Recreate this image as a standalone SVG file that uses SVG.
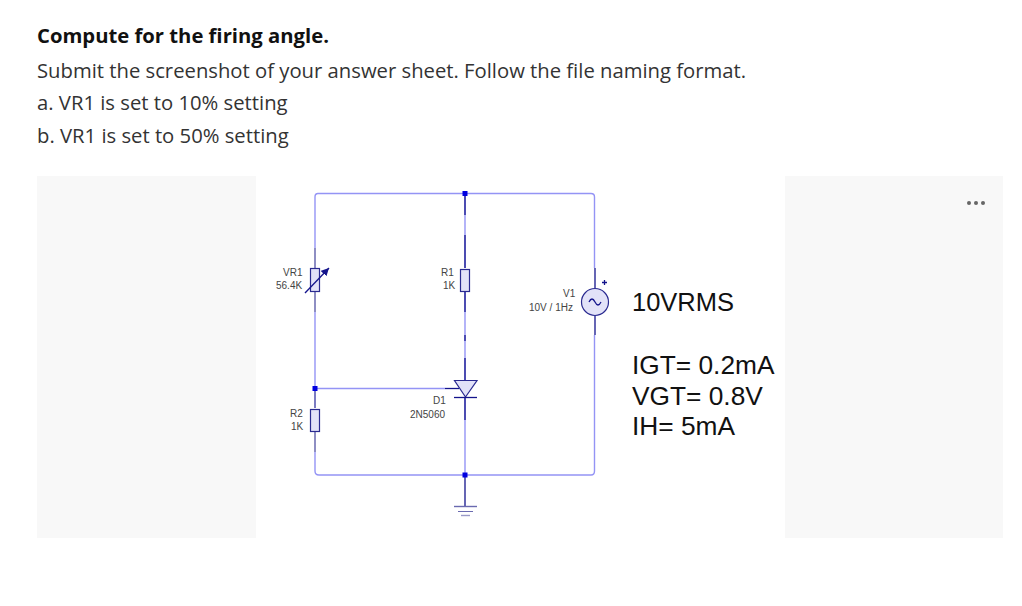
<svg xmlns="http://www.w3.org/2000/svg" width="1022" height="606" viewBox="0 0 1022 606">
<style>
.q{font-family:"Open Sans","Noto Sans",sans-serif;font-size:20.25px;fill:#333}
.l{font-family:"Liberation Sans",Arial,sans-serif;font-size:10px;fill:#444}
.b{font-family:"Liberation Sans",Arial,sans-serif;font-size:26.300px;fill:#111}
.w{fill:none;stroke:#9494f5;stroke-width:1.4}
.p{fill:none;stroke:#14148c;stroke-width:1.3}
.g{fill:none;stroke:#6a6ab0;stroke-width:1.5}
.body{fill:#e2e2f8;stroke:#2a2a90;stroke-width:1.2}
.j{fill:#0000e0}
.panel{fill:#f8f8f8}
</style>
<defs><marker id="ah" markerWidth="7" markerHeight="7" refX="6" refY="3" orient="auto"><path d="M0 0L6 3L0 6Z" fill="#14148c"/></marker></defs>
<rect width="1022" height="606" fill="#fff"/>
<g id="question">
<text x="37" y="43" class="q" style="font-weight:700;fill:#111">Compute for the firing angle.</text>
<text x="37" y="78" class="q">Submit the screenshot of your answer sheet. Follow the file naming format.</text>
<text x="37" y="110" class="q">a. VR1 is set to 10% setting</text>
<text x="37" y="143" class="q">b. VR1 is set to 50% setting</text>
</g>
<rect class="panel" x="37" y="176" width="219" height="362"/>
<rect class="panel" x="785" y="176" width="218" height="362"/>
<g id="menu" fill="#666"><circle cx="969" cy="203" r="2"/><circle cx="976" cy="203" r="2"/><circle cx="983" cy="203" r="2"/></g>
<g id="connectors">
<path class="w" d="M315 248V197Q315 193.500 318 193.500H591Q594.500 193.500 594.500 197V268"/>
<path class="w" d="M315 312V408M315 452V471Q315 475 319 475H591Q594.500 475 594.500 471V335"/>
<path class="w" d="M315 388.500H445M465 193.500V268M465 292V380M465 398V475"/>
<path class="p" d="M465 193.500V215M465 235V268M465 292V312M465 335V341M465 358V380M465 398V420M465 475V506"/>
<path class="g" d="M315 248V268M315 292V312M315 388.500V408M315 432V452"/>
<path class="p" d="M445 388.500H459"/>
<path class="p" d="M595 268V288M595 316V335"/>
</g>
<g id="VR1"><rect class="body" x="310.500" y="268.500" width="9" height="23"/><path class="p" d="M305 293L329 268" marker-end="url(#ah)"/><text class="l" x="283" y="276">VR1</text><text class="l" x="276" y="289">56.4K</text></g>
<g id="R1"><rect class="body" x="460.500" y="269.500" width="9" height="22"/><text class="l" x="441" y="276">R1</text><text class="l" x="443" y="289">1K</text></g>
<g id="R2"><rect class="body" x="310.500" y="409.500" width="9" height="22"/><text class="l" x="290" y="417">R2</text><text class="l" x="291" y="430">1K</text></g>
<g id="D1"><path class="body" d="M454.500 380.500H477L465.500 397Z"/><path class="p" d="M454 397.500H477"/><text class="l" x="433" y="404">D1</text><text class="l" x="410" y="418">2N5060</text></g>
<g id="V1"><circle class="body" cx="595" cy="302" r="13.500"/><path class="p" d="M589 302Q592 296 595 302T601 302"/><path class="p" d="M602 282.500H607M604.500 280V285"/><text class="l" x="563" y="297">V1</text><text class="l" x="529" y="311">10V / 1Hz</text></g>
<g id="GND"><path d="M454 506.500H477" stroke="#6a6ab0" stroke-width="1.4"/><path d="M458 511.500H473" stroke="#6a6ab0" stroke-width="1"/><path d="M461 515.500H470" stroke="#9a9ac8" stroke-width="1.4"/></g>
<g id="junctions" class="j"><rect x="462.500" y="191" width="5" height="5"/><rect x="312.500" y="386" width="5" height="5"/><rect x="462.500" y="472.500" width="5" height="5"/></g>
<g id="notes">
<text class="b" x="632" y="311" style="font-size:25.500px">10VRMS</text>
<text class="b" x="632" y="374">IGT= 0.2mA</text>
<text class="b" x="632" y="405">VGT= 0.8V</text>
<text class="b" x="632" y="435">IH= 5mA</text>
</g>
</svg>
